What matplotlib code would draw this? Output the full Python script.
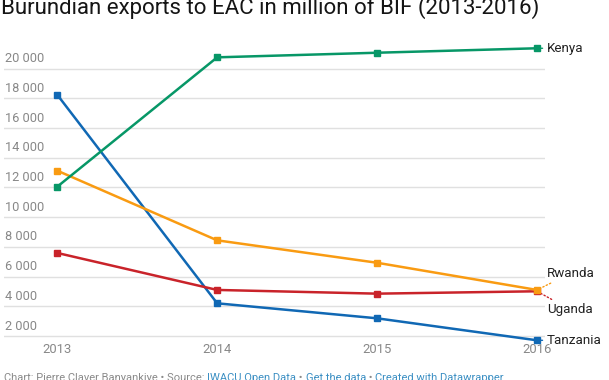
import matplotlib
matplotlib.use('Agg')
import matplotlib.pyplot as plt

plt.rcParams['font.family'] = ['Roboto', 'DejaVu Sans']

# data (million BIF)
years = [2013, 2014, 2015, 2016]
kenya = [12050, 20760, 21070, 21370]
tanzania = [18240, 4200, 3190, 1710]
rwanda = [13130, 8440, 6930, 5100]
uganda = [7590, 5100, 4850, 5010]

y_ticks = [2000, 4000, 6000, 8000, 10000, 12000, 14000, 16000, 18000, 20000]
tick_labels = ['2 000', '4 000', '6 000', '8 000', '10 000', '12 000',
               '14 000', '16 000', '18 000', '20 000']

series = [
    ('Tanzania', tanzania, '#1068b4', (7, 0)),
    ('Uganda', uganda, '#c9232a', (7, -13)),
    ('Rwanda', rwanda, '#f99b12', (7, 12)),
    ('Kenya', kenya, '#079767', (7, 0)),
]

fig = plt.figure(figsize=(6.09, 3.80), dpi=100)
ax = fig.add_axes([4 / 609, 1 - 344.9 / 380, 541 / 609, (344.9 - 40.4) / 380])
ax.set_xlim(2012.667, 2016.05)
ax.set_ylim(1400, 21900)
ax.axis('off')

# gridlines and y labels sitting on top of them
for v, lab in zip(y_ticks, tick_labels):
    ax.axhline(v, color='#e0e0e0', lw=1, zorder=0)
    ax.annotate(lab, xy=(0, v), xycoords=('axes fraction', 'data'),
                xytext=(1, 2.5), textcoords='offset points',
                ha='left', va='bottom', fontsize=9.2, color='#888888')

# x labels
for yr in years:
    ax.annotate(str(yr), xy=(yr, 0), xycoords=('data', 'axes fraction'),
                xytext=(0, -3.5), textcoords='offset points',
                ha='center', va='center', fontsize=9.4, color='#888888')

for name, vals, col, off in series:
    ax.plot(years, vals, color=col, lw=1.8, marker='s', markersize=5,
            zorder=3)
    ax.annotate(name, xy=(years[-1], vals[-1]), xytext=off,
                textcoords='offset points', ha='left', va='center',
                fontsize=9.6, color='#222222',
                arrowprops=dict(arrowstyle='-', color=col, lw=1,
                                linestyle=':', shrinkA=1, shrinkB=3))

# title, cut at the top like the source image
fig.text(0.002, 1 - 13.5 / 380, 'Burundian exports to EAC in million of BIF (2013-2016)',
         fontsize=16, color='#151515', ha='left', va='baseline')

# footer with link-coloured pieces
parts = [
    ('Chart: Pierre Claver Banyankiye • Source: ', '#8a8a8a'),
    ('IWACU Open Data', '#3b8fc3'),
    (' • ', '#8a8a8a'),
    ('Get the data', '#3b8fc3'),
    (' • ', '#8a8a8a'),
    ('Created with Datawrapper', '#3b8fc3'),
]
fig.canvas.draw()
renderer = fig.canvas.get_renderer()
x = 4 / 609
for txt, col in parts:
    t = fig.text(x, 1 - 373 / 380, txt, fontsize=8, color=col,
                 ha='left', va='top')
    bb = t.get_window_extent(renderer=renderer)
    x += bb.width / fig.bbox.width

fig.savefig('out.png', dpi=100)
